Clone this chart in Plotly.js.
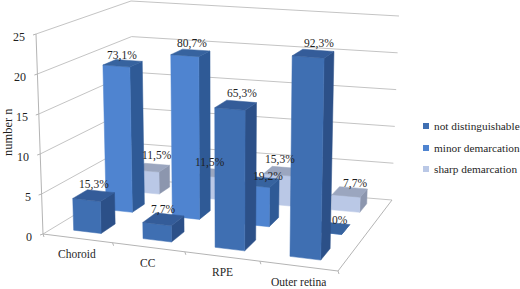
<!DOCTYPE html><html><head><meta charset="utf-8"><script src="https://cdn.plot.ly/plotly-3.0.1.min.js"></script>
<style>html,body{margin:0;padding:0;background:#fff;overflow:hidden}</style></head><body><div id="g" style="width:520px;height:289px"></div>
<script>
// ---------- data ----------
var categories=['Choroid','CC','RPE','Outer retina'];
var seriesNames=['not distinguishable','minor demarcation','sharp demarcation'];
var notDistinguishable=[4,2,17,24];
var minorDemarcation=[19,21,5,0];
var sharpDemarcation=[3,3,4,2];
var notLabels=['15,3%','7,7%','65,3%','92,3%'];
var minorLabels=['73,1%','80,7%','19,2%','0%'];
var sharpLabels=['11,5%','11,5%','15,3%','7,7%'];
var zTicks=[0,5,10,15,20,25];
var zMax=25;
// ---------- oblique 3-D frame of the chart: pixel positions of the box corners ----------
var FLB=[43,234],FRB=[338,271],BRB=[392,200],BLB=[134,179];
var FLT=[36,34],FRT=[342,56],BRT=[399,16],BLT=[131,1];
var kU=1.08,kV=0.8,barU=[.3,.7],barV=[.28,.71];
// small label nudges [dx,dy] per series and category
var nudgeNot=[[-3,-2],[-4,-1],[2,-3],[2,-1]],nudgeMinor=[[-4,1],[-2,0],[4,3],[5,1]],nudgeSharp=[[2,-3],[-9,-2],[-5,-3],[2,0]];
function warp(t,k){return t/(t+k*(1-t))}
function lerp(a,b,t){return[a[0]+(b[0]-a[0])*t,a[1]+(b[1]-a[1])*t]}
function P(cat,row,val){
 var u=warp(cat/categories.length,kU),v=warp(row/seriesNames.length,kV),w=val/zMax;
 var b=lerp(lerp(FLB,FRB,u),lerp(BLB,BRB,u),v),t=lerp(lerp(FLT,FRT,u),lerp(BLT,BRT,u),v);return lerp(b,t,w)}
function poly(pts){var x=[],y=[];pts.forEach(function(p){x.push(p[0]);y.push(p[1])});x.push(pts[0][0]);y.push(pts[0][1]);x.push(null);y.push(null);return[x,y]}
function faceTrace(polys,color){var x=[],y=[];polys.forEach(function(pl){var r=poly(pl);x=x.concat(r[0]);y=y.concat(r[1])});
 return{type:'scatter',mode:'lines',x:x,y:y,fill:'toself',fillcolor:color,line:{color:color,width:.5},hoverinfo:'skip',showlegend:false}}
function seriesTraces(vals,row,cols){var F=[],S=[],T=[];vals.forEach(function(v,i){var a=i+barU[0],b=i+barU[1],c=row+barV[0],d=row+barV[1];
 F.push([P(a,c,0),P(b,c,0),P(b,c,v),P(a,c,v)]);S.push([P(b,c,0),P(b,d,0),P(b,d,v),P(b,c,v)]);T.push([P(a,c,v),P(b,c,v),P(b,d,v),P(a,d,v)])});
 return[faceTrace(S,cols[1]),faceTrace(F,cols[0]),faceTrace(T,cols[2])]}
function lineTrace(segs,color,w){var x=[],y=[];segs.forEach(function(s){s.forEach(function(p){x.push(p[0]);y.push(p[1])});x.push(null);y.push(null)});
 return{type:'scatter',mode:'lines',x:x,y:y,line:{color:color,width:w},hoverinfo:'skip',showlegend:false}}
var nC=categories.length,nR=seriesNames.length;
var grid=[];zTicks.forEach(function(z){grid.push([P(0,0,z),P(0,nR,z),P(nC,nR,z)])});
var frame=[[P(0,0,0),P(nC,0,0),P(nC,nR,0)],[P(0,0,0),P(0,0,zMax)]];
var ticks=[];for(var i=0;i<=nC;i++){var p=P(i,0,0);ticks.push([p,[p[0]+1,p[1]+3]])}
zTicks.forEach(function(z){var p=P(0,0,z);ticks.push([p,[p[0]-3,p[1]+1]])});
var colsNot=['#3F6FB2','#2C5088','#345C99'],colsMinor=['#4F84D0','#2F5A96','#37639F'],colsSharp=['#BAC8E6','#8C96AE','#9BA6BF'];
var data=[lineTrace(grid,'#c4c4c4',1),lineTrace(frame,'#b4b4b4',1),lineTrace(ticks,'#b4b4b4',1)]
 .concat(seriesTraces(sharpDemarcation,2,colsSharp),seriesTraces(minorDemarcation,1,colsMinor),seriesTraces(notDistinguishable,0,colsNot));
var legendColors=['#3F6FB2','#4F84D0','#BAC8E6'],legendY=[126,148,169];
seriesNames.forEach(function(n,i){data.push({type:'scatter',mode:'markers',x:[426],y:[legendY[i]],marker:{symbol:'square',size:6,color:legendColors[i]},name:n,hoverinfo:'skip',showlegend:false})});
var fnt='Liberation Serif',col='#1f1f1f',anns=[];
function ann(t,x,y,o){var a={text:t,x:x,y:y,xref:'x',yref:'y',showarrow:false,font:{family:fnt,size:11.5,color:col},xanchor:'center',yanchor:'middle'};for(var k in o)a[k]=o[k];anns.push(a)}
function barLabels(vals,labs,row,nudge){vals.forEach(function(v,i){var p=P(i+.55,row+.5,v);ann(labs[i],p[0]+nudge[i][0],p[1]-9+nudge[i][1])})}
barLabels(sharpDemarcation,sharpLabels,2,nudgeSharp);barLabels(minorDemarcation,minorLabels,1,nudgeMinor);barLabels(notDistinguishable,notLabels,0,nudgeNot);
categories.forEach(function(c,i){var p=P(i+.5,0,0);ann(c,p[0],p[1]+16)});
zTicks.forEach(function(z){var p=P(0,0,z);ann(String(z),p[0]-9,p[1]+3,{xanchor:'right',font:{family:fnt,size:12,color:col}})});
ann('number n',8,132,{textangle:-90,font:{family:fnt,size:12.5,color:col}});
seriesNames.forEach(function(n,i){ann(n,432,legendY[i],{xanchor:'left',font:{family:fnt,size:11.3,color:col}})});
var ax={visible:false,fixedrange:true,autorange:false};
Plotly.newPlot('g',data,{width:520,height:289,margin:{l:0,r:0,t:0,b:0},paper_bgcolor:'#fff',plot_bgcolor:'#fff',showlegend:false,
 xaxis:Object.assign({range:[0,520]},ax),yaxis:Object.assign({range:[289,0]},ax),annotations:anns},{staticPlot:true});
</script></body></html>
